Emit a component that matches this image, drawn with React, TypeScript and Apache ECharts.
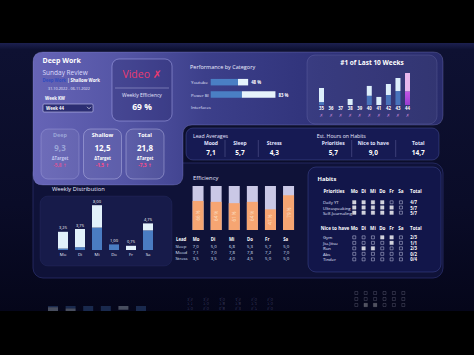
import React, { useEffect, useRef } from "react";
import * as echarts from "echarts";

const FONT = "'Open Sans', 'DejaVu Sans', sans-serif";

// ---------- data ----------
const perfCategories = ["Youtube", "Power BI", "Interfaces"];
const perfDeep = [35, 40, 0];
const perfShallow = [13, 43, 0];
const perfTotals = [48, 83, 0];

const weeks = ["35", "36", "37", "38", "39", "40", "41", "42", "43", "44"];
const weekDeep = [2.0, 0, 0, 0, 0, 6.3, 0, 6.8, 9.5, 9.3];
const weekShallow = [9.6, 0, 0, 4.1, 0, 6.7, 5.5, 7.5, 8.9, 12.5];
const weekMarks = ["✗", "✗", "✗", "✗", "✗", "✗", "✗", "✗", "✗", "✗"];

const days = ["Mo", "Di", "Mi", "Do", "Fr", "Sa"];
const distDeep = [0.25, 0.5, 4.0, 1.0, 0, 3.5];
const distShallow = [3.0, 3.25, 4.0, 0, 0.75, 1.25];
const distLabels = ["3,25", "3,75", "8,00", "1,00", "0,75", "4,75"];

const efficiency = [66, 64, 61, 64, 47, 79];
const leadRows = ["Sleep", "Mood", "Stress"];
const sleepVals = ["7,0", "5,0", "6,8", "5,3", "5,7", "5,0"];
const moodVals = ["7,1", "7,0", "7,8", "7,8", "7,2", "7,0"];
const stressVals = ["3,5", "3,5", "4,0", "4,5", "5,0", "5,0"];

const cardTitles = ["Deep", "Shallow", "Total"];
const cardValues = ["9,3", "12,5", "21,8"];
const cardDeltas = ["-5,8 ↑", "-1,5 ↑", "-7,3 ↑"];

const leadLabels = ["Mood", "Sleep", "Stress"];
const leadValues = ["7,1", "5,7", "4,3"];
const hourLabels = ["Priorities", "Nice to have", "Total"];
const hourValues = ["5,7", "9,0", "14,7"];

const priorityHabits = ["Daily YT", "Ultraspeaking", "Self-Journaling"];
const priorityDone = [
  [1, 1, 1, 1, 0, 0],
  [1, 1, 1, 1, 1, 0],
  [1, 1, 1, 1, 1, 0],
];
const priorityTotals = ["4/7", "5/7", "5/7"];
const niceHabits = ["Gym", "Jiu-Jitsu", "Run", "Abs", "Tinder"];
const niceDone = [
  [0, 0, 0, 1, 1, 0],
  [0, 0, 0, 0, 1, 0],
  [0, 1, 1, 0, 0, 0],
  [0, 0, 0, 0, 0, 0],
  [0, 0, 0, 0, 0, 0],
];
const niceTotals = ["2/3", "1/1", "2/3", "0/2", "0/4"];

// ---------- helpers ----------
const txt = (text: string, x: number, y: number, size: number, fill: string, o: any = {}) => ({
  type: "text",
  silent: true,
  z: 1,
  style: {
    text,
    x,
    y,
    fontSize: size,
    fontFamily: FONT,
    fontWeight: o.bold ? "bold" : "normal",
    fill,
    align: o.align || "left",
    verticalAlign: "middle",
    opacity: o.opacity ?? 1,
    rich: o.rich,
  },
});

const hidden = { show: false };
const noLines = { axisLine: hidden, axisTick: hidden, splitLine: hidden };

const filledBox = { color: "#ffffff", borderColor: "#ffffff", borderWidth: 0.3 };
const emptyBox = { color: "rgba(0,0,0,0)", borderColor: "#e6e8ff", borderWidth: 0.55 };

function boxData(done: number[][]) {
  const out: any[] = [];
  done.forEach((row, r) =>
    row.forEach((d, c) =>
      out.push({ value: [c, r], symbolSize: d ? 3.6 : 3.0, itemStyle: d ? filledBox : emptyBox })
    )
  );
  return out;
}

function buildOption() {
  const LG = echarts.graphic.LinearGradient;
  const g: any[] = [];

  // page background
  g.push({
    type: "rect",
    shape: { x: 0, y: 43, width: 474, height: 269 },
    style: {
      fill: new LG(0, 0, 0, 1, [
        { offset: 0, color: "#1c2050" },
        { offset: 0.025, color: "#0e1132" },
        { offset: 0.6, color: "#0a0c28" },
        { offset: 1, color: "#05061a" },
      ]),
    },
  });

  // lower panel
  g.push({
    type: "rect",
    shape: { x: 33, y: 163, width: 410, height: 115, r: 10 },
    style: { fill: "#0f1238", stroke: "#2a2f6a", lineWidth: 0.8 },
  });
  // weekly distribution inner
  g.push({
    type: "rect",
    shape: { x: 40, y: 196, width: 132, height: 70, r: 8 },
    style: { fill: "#171b4a", stroke: "rgba(120,130,220,0.15)", lineWidth: 0.6 },
  });
  // habits panel
  g.push({
    type: "rect",
    shape: { x: 308, y: 167, width: 133, height: 105, r: 8 },
    style: { fill: "#12164a", stroke: "rgba(120,130,230,0.35)", lineWidth: 0.7 },
  });

  // upper L-shaped purple panel
  g.push({
    type: "lpanel",
    x: 0,
    y: 0,
    style: {
      fill: new LG(33, 0, 443, 0, [
        { offset: 0, color: "#6664b6" },
        { offset: 0.22, color: "#5455a5" },
        { offset: 0.42, color: "#3c3f8a" },
        { offset: 0.7, color: "#30337a" },
        { offset: 1, color: "#292c6b" },
      ], true),
      stroke: "rgba(170,170,240,0.35)",
      lineWidth: 0.7,
    },
  });

  // lead strip
  g.push({
    type: "rect",
    shape: { x: 186, y: 128, width: 253, height: 32, r: 7 },
    style: { fill: "#161a53", stroke: "rgba(120,130,220,0.4)", lineWidth: 0.7 },
  });

  // #1 card
  g.push({
    type: "rect",
    shape: { x: 307, y: 55, width: 130, height: 69, r: 8 },
    style: { fill: "rgba(255,255,255,0.045)", stroke: "rgba(200,200,255,0.2)", lineWidth: 0.7 },
  });

  // Video card
  g.push({
    type: "rect",
    shape: { x: 112, y: 59, width: 60, height: 62, r: 7 },
    style: { fill: "rgba(40,40,110,0.35)", stroke: "rgba(190,190,255,0.55)", lineWidth: 0.8 },
  });
  g.push({
    type: "line",
    shape: { x1: 115, y1: 88, x2: 169, y2: 88 },
    style: { stroke: "rgba(220,220,255,0.6)", lineWidth: 0.6 },
  });
  g.push(txt("Video ✗", 142, 74, 10.5, "#ea3a70", { align: "center" }));
  g.push(txt("Weekly Efficiency", 142, 95, 5, "#e8e8ff", { align: "center" }));
  g.push(txt("69 %", 142, 106.5, 8.5, "#ffffff", { align: "center", bold: true }));

  // header texts
  g.push(txt("Deep Work", 42.5, 60, 7, "#ffffff", { bold: true }));
  g.push(txt("Sunday Review", 42.5, 72.5, 6.5, "#dcdcff"));
  g.push(
    txt("{a|Deep Work} {b|| Shallow Work}", 42.5, 79.5, 4.3, "#ffffff", {
      rich: {
        a: { fill: "#2f4cc0", fontSize: 4.3, fontFamily: FONT, fontWeight: "bold" },
        b: { fill: "#ffffff", fontSize: 4.3, fontFamily: FONT, fontWeight: "bold" },
      },
    })
  );
  g.push(txt("31.10.2022 - 06.11.2022", 48, 88, 3.8, "#e8e8ff"));
  g.push(txt("Week KW", 45, 97.5, 4.3, "#ffffff", { bold: true }));
  g.push({
    type: "rect",
    shape: { x: 43, y: 104, width: 50, height: 8, r: 1 },
    style: { fill: "#2b2d72", stroke: "#c8c8f0", lineWidth: 0.6 },
  });
  g.push(txt("Week 44", 46, 108, 4.3, "#ffffff", { bold: true }));
  g.push({
    type: "polyline",
    shape: { points: [[87, 106.8], [89, 108.8], [91, 106.8]] },
    style: { stroke: "#ffffff", lineWidth: 0.6, fill: null },
  });

  g.push(txt("Performance by Category", 190, 67, 5.5, "#f0f0ff"));
  g.push(txt("#1 of Last 10 Weeks", 372, 62, 6.5, "#ffffff", { align: "center", bold: true }));

  // stat cards
  cardTitles.forEach((t, i) => {
    const x0 = 41 + i * 42.5;
    const cx = x0 + 19;
    const faded = i === 0;
    g.push({
      type: "rect",
      shape: { x: x0, y: 129, width: 38, height: 50, r: 7 },
      style: {
        fill: "rgba(255,255,255,0.06)",
        stroke: faded ? "rgba(210,210,255,0.3)" : "rgba(220,220,255,0.45)",
        lineWidth: 0.8,
      },
    });
    const main = faded ? "#9aa5d8" : "#ffffff";
    g.push(txt(t, cx, 135, 5.5, main, { align: "center", bold: true }));
    g.push(txt(cardValues[i], cx, 147.5, 8, main, { align: "center", bold: true }));
    g.push(txt("ΔTarget", cx, 158.3, 4.3, faded ? "#c4c8f0" : "#ffffff", { align: "center", bold: true }));
    g.push(txt(cardDeltas[i], cx, 165.3, 4.8, faded ? "#d4559a" : "#ff4a8a", { align: "center", bold: true }));
  });

  // lead strip texts
  g.push(txt("Lead Averages", 193, 136.3, 5.2, "#e8e8ff"));
  const leadX = [211, 240, 274.3];
  leadLabels.forEach((l, i) => {
    g.push(txt(l, leadX[i], 142.5, 5, "#e0e4ff", { align: "center", bold: true }));
    g.push(txt(leadValues[i], leadX[i], 152.5, 6.5, "#ffffff", { align: "center", bold: true }));
  });
  g.push(txt("Est. Hours on Habits", 316.7, 136.3, 5.2, "#e8e8ff"));
  const hourX = [333.3, 373.3, 418.3];
  hourLabels.forEach((l, i) => {
    g.push(txt(l, hourX[i], 142.5, 5, "#e0e4ff", { align: "center", bold: true }));
    g.push(txt(hourValues[i], hourX[i], 152.5, 6.5, "#ffffff", { align: "center", bold: true }));
  });
  [225, 258.3, 351.7, 395.7].forEach((x) =>
    g.push({
      type: "line",
      shape: { x1: x, y1: 140, x2: x, y2: 157 },
      style: { stroke: "rgba(200,200,255,0.35)", lineWidth: 0.6 },
    })
  );

  // section titles
  g.push(txt("Weekly Distribution", 52, 189.3, 5.8, "#e8e8ff"));
  g.push(txt("Efficiency", 193, 177.7, 5.8, "#e8e8ff"));
  g.push(txt("Habits", 317.5, 179, 5.8, "#ffffff", { bold: true }));
  g.push(txt("Priorities", 334, 191, 4.6, "#ffffff", { align: "center", bold: true }));
  g.push(txt("Total", 410, 191, 4.6, "#ffffff", { bold: true }));
  g.push(txt("Nice to have", 335, 227.7, 4.6, "#ffffff", { align: "center", bold: true }));
  g.push(txt("Total", 410, 227.7, 4.6, "#ffffff", { bold: true }));

  // efficiency lead table
  const colX = days.map((_, i) => 192.7 + i * 18.1);
  g.push(txt("Lead", 176, 239, 4.3, "#ffffff", { bold: true }));
  days.forEach((d, i) => g.push(txt(d, colX[i], 239, 4.3, "#ffffff", { bold: true })));
  const tableRows = [sleepVals, moodVals, stressVals];
  const rowY = [246, 252, 258];
  leadRows.forEach((r, ri) => {
    g.push(txt(r, 175.5, rowY[ri], 4.3, "#dfe3ff"));
    tableRows[ri].forEach((v, i) => g.push(txt(v, colX[i], rowY[ri], 4.3, "#dfe3ff")));
  });

  // faint mirrored table reflection
  const reflRowY = [299.5, 304, 308.5];
  [stressVals, moodVals, sleepVals].forEach((vals, ri) => {
    vals.forEach((v, i) =>
      g.push({
        type: "text",
        silent: true,
        z: 1,
        x: 187 + i * 16,
        y: reflRowY[ri],
        scaleY: -1,
        style: {
          text: v,
          x: 0,
          y: 0,
          fontSize: 4.3,
          fontFamily: FONT,
          fill: "#aab0e0",
          opacity: 0.3,
          verticalAlign: "middle",
        },
      })
    );
  });

  // bottom black
  g.push({
    type: "rect",
    z: 10,
    shape: { x: 0, y: 311, width: 474, height: 44 },
    style: { fill: "#000000" },
  });

  const smallLabel = { fontSize: 4.3, fontFamily: FONT, color: "#e0e4ff", interval: 0 };

  return {
    animation: false,
    backgroundColor: "#000000",
    graphic: { elements: g },
    grid: [
      { left: 210.7, top: 76, width: 78, height: 37 }, // 0 perf
      { left: 316.7, top: 61, width: 95.6, height: 44 }, // 1 weeks
      { left: 54.5, top: 199.6, width: 102, height: 50.4 }, // 2 dist
      { left: 189, top: 186, width: 108.6, height: 44 }, // 3 eff
      { left: 349.6, top: 199.7, width: 56, height: 15.6 }, // 4 priorities
      { left: 349.6, top: 234.6, width: 56, height: 27.5 }, // 5 nice
      { left: 44.2, top: 306, width: 105.6, height: 5 }, // 6 dist reflection
      { left: 351.6, top: 290, width: 56.4, height: 18 }, // 7 habits reflection
    ],
    xAxis: [
      { gridIndex: 0, type: "value", min: 0, max: 100, show: false },
      {
        gridIndex: 1,
        type: "category",
        data: weeks,
        ...noLines,
        axisLabel: {
          interval: 0,
          margin: 0,
          formatter: (v: string, i: number) => `{w|${v}}\n{m|${weekMarks[i]}}`,
          rich: {
            w: { fontSize: 4.3, fontFamily: FONT, fontWeight: "bold", color: "#ffffff", lineHeight: 5 },
            m: { fontSize: 4.5, fontFamily: "'DejaVu Sans', sans-serif", color: "#b57cc9", lineHeight: 10 },
          },
        },
      },
      {
        gridIndex: 2,
        type: "category",
        data: days,
        ...noLines,
        axisLabel: { ...smallLabel, margin: 1.5, color: "#eef0ff" },
      },
      { gridIndex: 3, type: "category", data: days, show: false },
      {
        gridIndex: 4,
        type: "category",
        data: days,
        position: "top",
        ...noLines,
        axisLabel: { interval: 0, fontSize: 4.6, fontFamily: FONT, fontWeight: "bold", color: "#ffffff", margin: 6.2 },
      },
      {
        gridIndex: 5,
        type: "category",
        data: days,
        position: "top",
        ...noLines,
        axisLabel: { interval: 0, fontSize: 4.6, fontFamily: FONT, fontWeight: "bold", color: "#ffffff", margin: 4.4 },
      },
      { gridIndex: 6, type: "category", data: days, show: false },
      { gridIndex: 7, type: "category", data: days, show: false },
    ],
    yAxis: [
      {
        gridIndex: 0,
        type: "category",
        data: perfCategories,
        inverse: true,
        ...noLines,
        axisLabel: { ...smallLabel, align: "left", margin: 19.7 },
      },
      { gridIndex: 1, type: "value", min: 0, max: 30, show: false },
      { gridIndex: 2, type: "value", min: 0, max: 9, show: false },
      { gridIndex: 3, type: "value", min: 0, max: 100, show: false },
      {
        gridIndex: 4,
        type: "category",
        data: priorityHabits,
        inverse: true,
        ...noLines,
        axisLabel: { ...smallLabel, align: "left", margin: 26.6 },
      },
      {
        gridIndex: 4,
        type: "category",
        data: priorityTotals,
        inverse: true,
        position: "right",
        ...noLines,
        axisLabel: { ...smallLabel, fontWeight: "bold", color: "#ffffff", align: "left", margin: 4.6 },
      },
      {
        gridIndex: 5,
        type: "category",
        data: niceHabits,
        inverse: true,
        ...noLines,
        axisLabel: { ...smallLabel, align: "left", margin: 26.6 },
      },
      {
        gridIndex: 5,
        type: "category",
        data: niceTotals,
        inverse: true,
        position: "right",
        ...noLines,
        axisLabel: { ...smallLabel, fontWeight: "bold", color: "#ffffff", align: "left", margin: 4.6 },
      },
      { gridIndex: 6, type: "value", min: 0, max: 1, inverse: true, show: false },
      { gridIndex: 7, type: "category", data: niceHabits, min: 2, max: 4, show: false },
    ],
    series: [
      // performance by category
      {
        type: "bar",
        xAxisIndex: 0,
        yAxisIndex: 0,
        stack: "perf",
        barWidth: 6.5,
        data: perfDeep,
        itemStyle: { color: "#4a7fc4" },
      },
      {
        type: "bar",
        xAxisIndex: 0,
        yAxisIndex: 0,
        stack: "perf",
        barWidth: 6.5,
        data: perfShallow,
        itemStyle: { color: "#e6f3fb" },
        label: {
          show: true,
          position: "right",
          distance: 3,
          fontSize: 4.3,
          fontFamily: FONT,
          fontWeight: "bold",
          color: "#ffffff",
          formatter: (p: any) => (perfTotals[p.dataIndex] ? `${perfTotals[p.dataIndex]} %` : ""),
        },
      },
      // #1 of last 10 weeks
      {
        type: "bar",
        xAxisIndex: 1,
        yAxisIndex: 1,
        stack: "wk",
        barWidth: 5,
        data: weekDeep.map((v, i) =>
          i === 9
            ? {
                value: v,
                itemStyle: {
                  color: new echarts.graphic.LinearGradient(0, 0, 0, 1, [
                    { offset: 0, color: "#c456e6" },
                    { offset: 1, color: "#9a3ccf" },
                  ]),
                },
              }
            : v
        ),
        itemStyle: { color: "#4874bb" },
      },
      {
        type: "bar",
        xAxisIndex: 1,
        yAxisIndex: 1,
        stack: "wk",
        barWidth: 5,
        data: weekShallow.map((v, i) => (i === 9 ? { value: v, itemStyle: { color: "#e8b6ec" } } : v)),
        itemStyle: { color: "#ddeffb" },
      },
      // weekly distribution
      {
        type: "bar",
        xAxisIndex: 2,
        yAxisIndex: 2,
        stack: "dist",
        barWidth: 10,
        data: distDeep,
        itemStyle: { color: "#4a7cc2" },
      },
      {
        type: "bar",
        xAxisIndex: 2,
        yAxisIndex: 2,
        stack: "dist",
        barWidth: 10,
        data: distShallow,
        itemStyle: { color: "#e2f1fb" },
        label: {
          show: true,
          position: "top",
          distance: 2,
          fontSize: 4,
          fontFamily: FONT,
          color: "#ffffff",
          formatter: (p: any) => distLabels[p.dataIndex],
        },
      },
      // efficiency
      {
        type: "bar",
        xAxisIndex: 3,
        yAxisIndex: 3,
        barWidth: 11,
        data: efficiency,
        showBackground: true,
        backgroundStyle: { color: "#cac8e6" },
        itemStyle: { color: "#f6a572" },
        label: {
          show: true,
          position: "inside",
          rotate: 90,
          fontSize: 4.5,
          fontFamily: FONT,
          color: "#fde2cc",
          formatter: "{c} %",
        },
      },
      // habits
      {
        type: "scatter",
        xAxisIndex: 4,
        yAxisIndex: 4,
        symbol: "rect",
        data: boxData(priorityDone),
      },
      {
        type: "scatter",
        xAxisIndex: 5,
        yAxisIndex: 6,
        symbol: "rect",
        data: boxData(niceDone),
      },
      // reflections
      {
        type: "bar",
        xAxisIndex: 6,
        yAxisIndex: 8,
        stack: "refl",
        barWidth: 10,
        clip: true,
        data: distDeep,
        itemStyle: { color: "#4a7cc2", opacity: 0.3 },
      },
      {
        type: "bar",
        xAxisIndex: 6,
        yAxisIndex: 8,
        stack: "refl",
        barWidth: 10,
        clip: true,
        data: distShallow,
        itemStyle: { color: "#e2f1fb", opacity: 0.3 },
      },
      {
        type: "scatter",
        xAxisIndex: 7,
        yAxisIndex: 9,
        symbol: "rect",
        data: boxData(niceDone).map((d) => ({ ...d, itemStyle: { ...d.itemStyle, opacity: 0.3 } })),
      },
    ],
  };
}

let registered = false;
function registerShapes() {
  if (registered) return;
  registered = true;
  const d =
    "M43,52 H433 Q443,52 443,62 V115 Q443,125 433,125 H192 Q184,125 183,133 V175 Q183,185 173,185 H43 Q33,185 33,175 V62 Q33,52 43,52 Z";
  echarts.graphic.registerShape("lpanel", echarts.graphic.extendPath(d, {}));
}

export default function App() {
  const ref = useRef<HTMLDivElement>(null);
  useEffect(() => {
    registerShapes();
    const chart = echarts.init(ref.current!, undefined, { renderer: "svg" });
    chart.setOption(buildOption() as any);
    return () => chart.dispose();
  }, []);
  return (
    <div
      ref={ref}
      style={{ position: "fixed", left: 0, top: 0, width: 474, height: 355, background: "#000" }}
    />
  );
}
